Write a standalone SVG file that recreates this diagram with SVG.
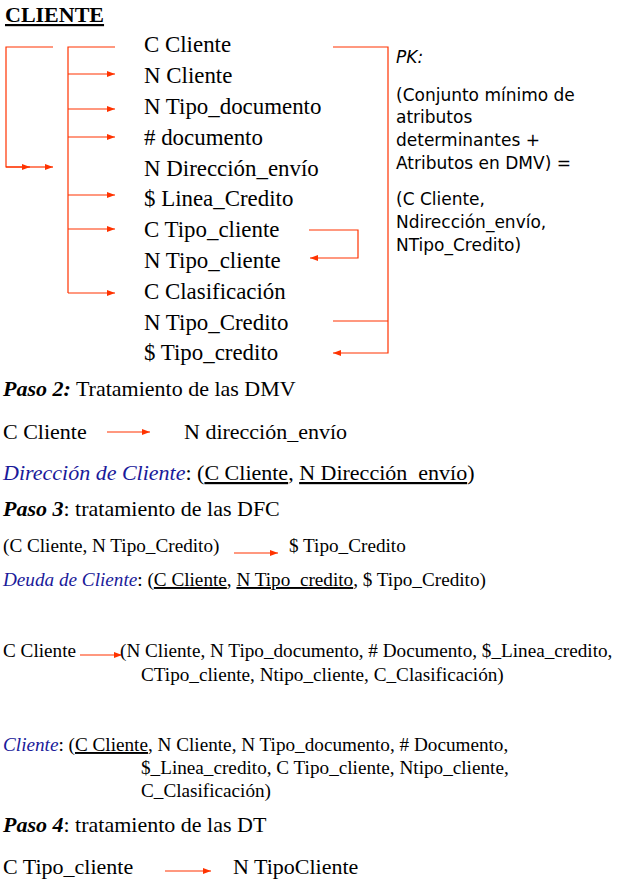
<svg xmlns="http://www.w3.org/2000/svg" width="628" height="882" viewBox="0 0 628 882">
<style>
.t{font-family:"Liberation Serif",serif;font-size:22px;fill:#000}
.a{font-family:"Liberation Serif",serif;font-size:22.9px;fill:#000}
.s{font-family:"Liberation Serif",serif;font-size:19.2px;fill:#000}
.c{font-family:"DejaVu Sans",sans-serif;font-size:17px;fill:#000}
.b{font-weight:bold;font-style:italic}
.bl{fill:#1a1a9a;font-style:italic}
.l{stroke:#ff3300;stroke-width:1.2;fill:none}
</style>
<defs><marker id="a" markerWidth="8" markerHeight="6" refX="8" refY="3" orient="auto" markerUnits="userSpaceOnUse"><path d="M0,0L8,3L0,6z" fill="#ff3300"/></marker></defs>
<rect width="628" height="882" fill="#fff"/>
<g id="title"><text x="5" y="22" class="t" font-weight="bold" text-decoration="underline">CLIENTE</text></g>
<g id="attrs" class="a">
<text x="144" y="52">C Cliente</text>
<text x="144" y="83">N Cliente</text>
<text x="144" y="114">N Tipo_documento</text>
<text x="144" y="145"># documento</text>
<text x="144" y="176">N Dirección_envío</text>
<text x="144" y="206">$ Linea_Credito</text>
<text x="144" y="237">C Tipo_cliente</text>
<text x="144" y="268">N Tipo_cliente</text>
<text x="144" y="299">C Clasificación</text>
<text x="144" y="330">N Tipo_Credito</text>
<text x="144" y="360">$ Tipo_credito</text>
</g>
<g id="pk" class="c">
<text x="396" y="63" font-style="italic">PK:</text>
<text x="396" y="101">(Conjunto mínimo de</text>
<text x="396" y="123">atributos</text>
<text x="396" y="146">determinantes +</text>
<text x="396" y="169">Atributos en DMV) =</text>
<text x="396" y="205">(C Cliente,</text>
<text x="396" y="228">Ndirección_envío,</text>
<text x="396" y="251">NTipo_Credito)</text>
</g>
<g id="connectors" class="l">
<path d="M53,47H6V167H30"/><path d="M30,167H53" marker-end="url(#a)"/><path d="M6,167H30" marker-end="url(#a)"/>
<path d="M115,47H68V293"/>
<path d="M68,74H115" marker-end="url(#a)"/>
<path d="M68,109H115" marker-end="url(#a)"/>
<path d="M68,137H115" marker-end="url(#a)"/>
<path d="M68,195H115" marker-end="url(#a)"/>
<path d="M68,229H115" marker-end="url(#a)"/>
<path d="M68,293H115" marker-end="url(#a)"/>
<path d="M309,230H358V258H310" marker-end="url(#a)"/>
<path d="M333,47H388V353H333" marker-end="url(#a)"/>
<path d="M333,321H388"/>
<path d="M107,432H150" marker-end="url(#a)"/>
<path d="M234,553H278" marker-end="url(#a)"/>
<path d="M80,655H122" marker-end="url(#a)"/>
<path d="M165,871H211" marker-end="url(#a)"/>
</g>
<g id="steps">
<text x="3" y="396" class="t"><tspan class="b">Paso 2:</tspan> Tratamiento de las DMV</text>
<text x="3" y="439" class="t">C Cliente</text>
<text x="184" y="439" class="t">N dirección_envío</text>
<text x="3" y="480" class="t"><tspan class="bl">Dirección de Cliente</tspan>: (<tspan text-decoration="underline">C Cliente</tspan>, <tspan text-decoration="underline">N Dirección_envío</tspan>)</text>
<text x="3" y="516" class="t"><tspan class="b">Paso 3</tspan>: tratamiento de las DFC</text>
<text x="3" y="552" class="s">(C Cliente, N Tipo_Credito)</text>
<text x="289" y="552" class="s">$ Tipo_Credito</text>
<text x="3" y="586" class="s"><tspan class="bl">Deuda de Cliente</tspan>: (<tspan text-decoration="underline">C Cliente</tspan>, <tspan text-decoration="underline">N Tipo_credito</tspan>, $ Tipo_Credito)</text>
<text x="3" y="657" class="s">C Cliente</text>
<text x="120" y="657" class="s">(N Cliente, N Tipo_documento, # Documento, $_Linea_credito,</text>
<text x="141" y="681" class="s">CTipo_cliente, Ntipo_cliente,  C_Clasificación)</text>
<text x="3" y="751" class="s"><tspan class="bl">Cliente</tspan>: (<tspan text-decoration="underline">C Cliente</tspan>, N Cliente, N Tipo_documento, # Documento,</text>
<text x="141" y="774" class="s">$_Linea_credito, C Tipo_cliente, Ntipo_cliente,</text>
<text x="141" y="797" class="s">C_Clasificación)</text>
<text x="3" y="832" class="t"><tspan class="b">Paso 4</tspan>: tratamiento de las DT</text>
<text x="3" y="874" class="t">C Tipo_cliente</text>
<text x="233" y="874" class="t">N TipoCliente</text>
</g>
</svg>
